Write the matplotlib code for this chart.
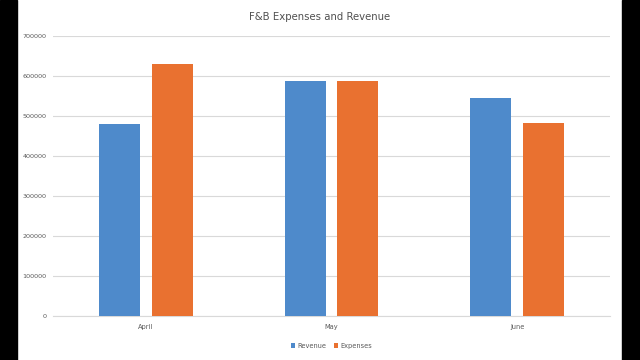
import numpy as np
import matplotlib
matplotlib.use("Agg")
import matplotlib.pyplot as plt
from matplotlib.patches import Rectangle

# ── data ──────────────────────────────────────────────────────────────────
months = ["April", "May", "June"]
revenue = [480000, 587000, 545000]
expenses = [630000, 587000, 482000]
yticks = [0, 100000, 200000, 300000, 400000, 500000, 600000, 700000]

BLUE = "#4E8ACB"
ORANGE = "#E97130"
GRID = "#D9D9D9"
TXT = "#595959"

fig = plt.figure(figsize=(6.4, 3.6), dpi=100)
fig.patch.set_facecolor("white")

# black video borders left/right
fig.patches.append(Rectangle((0, 0), 17 / 640, 1, transform=fig.transFigure,
                             color="black", zorder=-1))
fig.patches.append(Rectangle((622 / 640, 0), 18 / 640, 1, transform=fig.transFigure,
                             color="black", zorder=-1))

ax = fig.add_axes([53 / 640, 1 - 316 / 360, 557 / 640, 280 / 360])
x = np.arange(len(months))
w = 0.22
off = 0.142
ax.bar(x - off, revenue, w, color=BLUE, label="Revenue", zorder=3)
ax.bar(x + off, expenses, w, color=ORANGE, label="Expenses", zorder=3)

ax.set_xlim(-0.5, len(months) - 0.5)
ax.set_ylim(0, 700000)
ax.set_yticks(yticks)
ax.set_yticklabels([str(v) for v in yticks])
ax.set_xticks(x)
ax.set_xticklabels(months)
ax.tick_params(axis="y", length=0, labelsize=4.6, labelcolor=TXT, pad=4.5)
ax.tick_params(axis="x", length=0, labelsize=4.8, labelcolor=TXT, pad=6)
ax.grid(True, axis="y", color=GRID, lw=0.8, zorder=0)
for s in ["top", "right", "left"]:
    ax.spines[s].set_visible(False)
ax.spines["bottom"].set_color(GRID)
ax.spines["bottom"].set_linewidth(0.8)

fig.text(0.5, 1 - 17 / 360, "F&B Expenses and Revenue", ha="center", va="center",
         fontsize=7.3, color="#505050")

ax.legend(loc="center", bbox_to_anchor=(0.5, -0.107), ncol=2, frameon=False,
          fontsize=4.8, handlelength=0.6, handleheight=0.6, handletextpad=0.3,
          columnspacing=1.2, labelcolor=TXT)

fig.savefig("out.png", dpi=100)
